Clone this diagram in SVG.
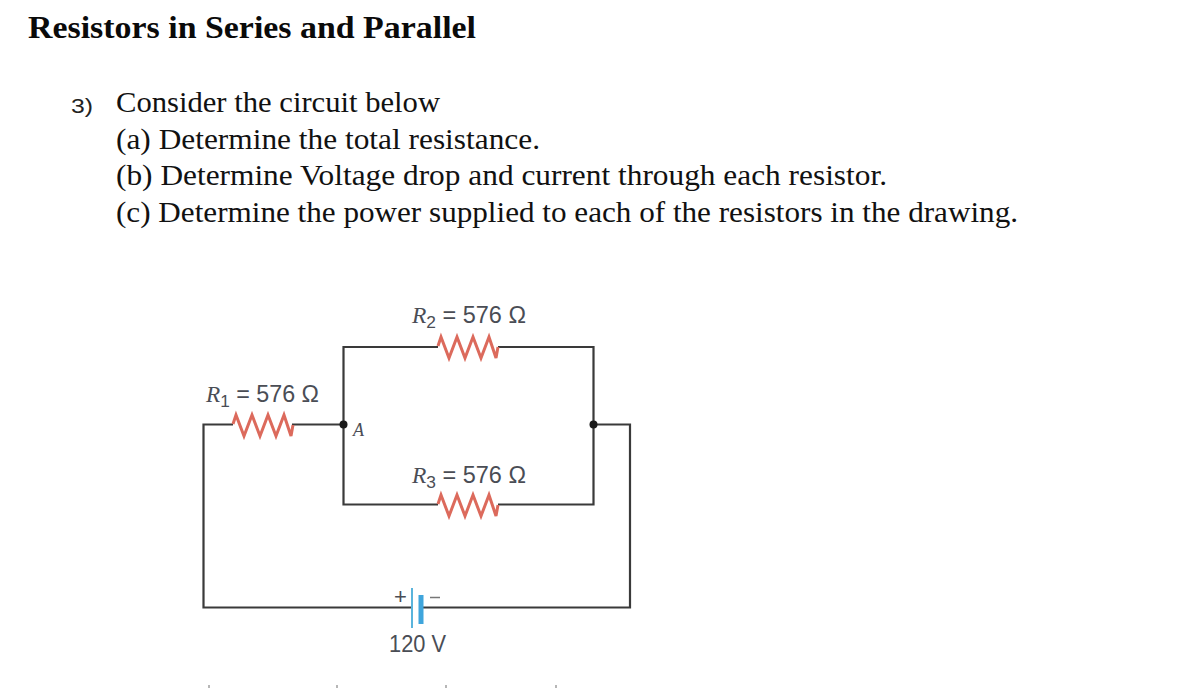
<svg xmlns="http://www.w3.org/2000/svg" width="1179" height="688" viewBox="0 0 1179 688">
<style>
.h{font:bold 31px "Liberation Serif",serif;fill:#0a0a0a}
.b{font:29px "Liberation Serif",serif;fill:#111}
.n{font:21px "Liberation Sans",sans-serif;fill:#222}
.l{font:23px "Liberation Sans",sans-serif;fill:#4a4d55}
.i{font-style:italic;font-family:"Liberation Serif",serif}
.s{font-size:17px}
.w{fill:none;stroke:#3a3a3a;stroke-width:2.2}
.r{fill:none;stroke:#dc6a5c;stroke-width:3;stroke-linejoin:miter}
.d{fill:#1a1a1a}
.t{stroke:#888;stroke-width:1.2}
</style>
<rect width="1179" height="688" fill="#fff"/>
<g id="text">
<text class="h" x="28" y="38" textLength="448" lengthAdjust="spacingAndGlyphs">Resistors in Series and Parallel</text>
<text class="n" x="71" y="113" textLength="22" lengthAdjust="spacingAndGlyphs">3)</text>
<text class="b" x="116" y="112" textLength="324" lengthAdjust="spacingAndGlyphs">Consider the circuit below</text>
<text class="b" x="116" y="149" textLength="424" lengthAdjust="spacingAndGlyphs">(a) Determine the total resistance.</text>
<text class="b" x="116" y="185" textLength="771" lengthAdjust="spacingAndGlyphs">(b) Determine Voltage drop and current through each resistor.</text>
<text class="b" x="116" y="222" textLength="902" lengthAdjust="spacingAndGlyphs">(c) Determine the power supplied to each of the resistors in the drawing.</text>
</g>
<g id="connectors">
<path class="w" d="M233 424.5H203.500V607.500H412M421 607.500H630V424.500H593"/>
<path class="w" d="M292 424.500H343.500"/>
<path class="w" d="M438 347H343.500V504.500H438"/>
<path class="w" d="M498 347H593.500V504.500H498"/>
</g>
<g id="node-a"><circle class="d" cx="343.500" cy="424.500" r="4"/><text class="l i" x="353" y="436" font-weight="bold" style="font-size:18px">A</text></g>
<g id="node-b"><circle class="d" cx="593.500" cy="424.500" r="4"/></g>
<g id="r1">
<text class="l" x="206" y="402" textLength="113" lengthAdjust="spacingAndGlyphs"><tspan class="i">R</tspan><tspan class="s" dy="5">1</tspan><tspan dy="-5"> = 576 Ω</tspan></text>
<path class="r" d="M233 424 L236 415 L244 436 L252 415 L260 436 L268 415 L276 436 L284 415 L291 436 L293 425"/>
</g>
<g id="r2">
<text class="l" x="412" y="323" textLength="114" lengthAdjust="spacingAndGlyphs"><tspan class="i">R</tspan><tspan class="s" dy="5">2</tspan><tspan dy="-5"> = 576 Ω</tspan></text>
<path class="r" d="M438 346 L441 337 L449 358 L457 337 L465 358 L473 337 L481 358 L489 337 L496 358 L498 347"/>
</g>
<g id="r3">
<text class="l" x="412" y="483" textLength="114" lengthAdjust="spacingAndGlyphs"><tspan class="i">R</tspan><tspan class="s" dy="5">3</tspan><tspan dy="-5"> = 576 Ω</tspan></text>
<path class="r" d="M438 504 L441 495 L449 516 L457 495 L465 516 L473 495 L481 516 L489 495 L496 516 L498 505"/>
</g>
<g id="battery">
<path stroke="#5ab4dc" stroke-width="2" d="M412 588V628"/>
<rect x="418.500" y="595" width="5" height="29" fill="#3fa5dc"/>
<text class="l" x="394" y="604" style="font-size:22px">+</text>
<path stroke="#777" stroke-width="1.500" d="M430 597.500H440"/>
<text class="l" x="389" y="652" textLength="57" lengthAdjust="spacingAndGlyphs">120 V</text>
</g>
<g id="ticks"><path class="t" d="M209 685V688M337 685V688M446 685V688M556 685V688"/></g>
</svg>
